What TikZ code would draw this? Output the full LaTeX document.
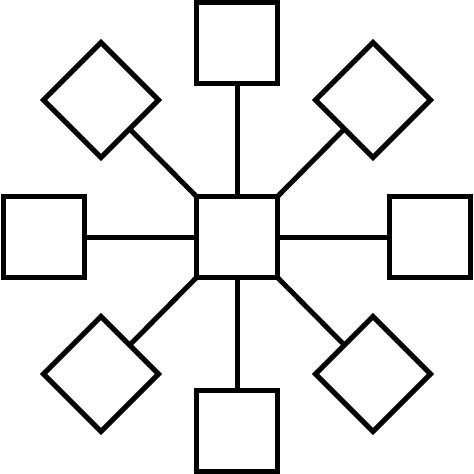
\documentclass[tikz,border=0pt]{standalone}
\usetikzlibrary{shapes.geometric}
\begin{document}
\begin{tikzpicture}[x=1pt,y=-1pt,
  box/.style={draw=black,line width=5pt,minimum size=81pt,inner sep=0pt,outer sep=0pt,fill=white},
  dia/.style={draw=black,line width=5pt,diamond,aspect=1,minimum size=115pt,inner sep=0pt,outer sep=0pt,fill=white},
  link/.style={draw=black,line width=5pt}]
\useasboundingbox (0,0) rectangle (474,474);
\node[box] (c) at (237,237) {};
\node[box] (t) at (237,43) {};
\node[box] (b) at (237,431) {};
\node[box] (l) at (44,237) {};
\node[box] (r) at (430,237) {};
\node[dia] (tl) at (101,100) {};
\node[dia] (tr) at (373,100) {};
\node[dia] (bl) at (101,374) {};
\node[dia] (br) at (373,374) {};
\draw[link] (c.north) -- (t.south);
\draw[link] (c.south) -- (b.north);
\draw[link] (c.west) -- (l.east);
\draw[link] (c.east) -- (r.west);
\draw[link] (c.north west) -- (tl);
\draw[link] (c.north east) -- (tr);
\draw[link] (c.south west) -- (bl);
\draw[link] (c.south east) -- (br);
\end{tikzpicture}
\end{document}
